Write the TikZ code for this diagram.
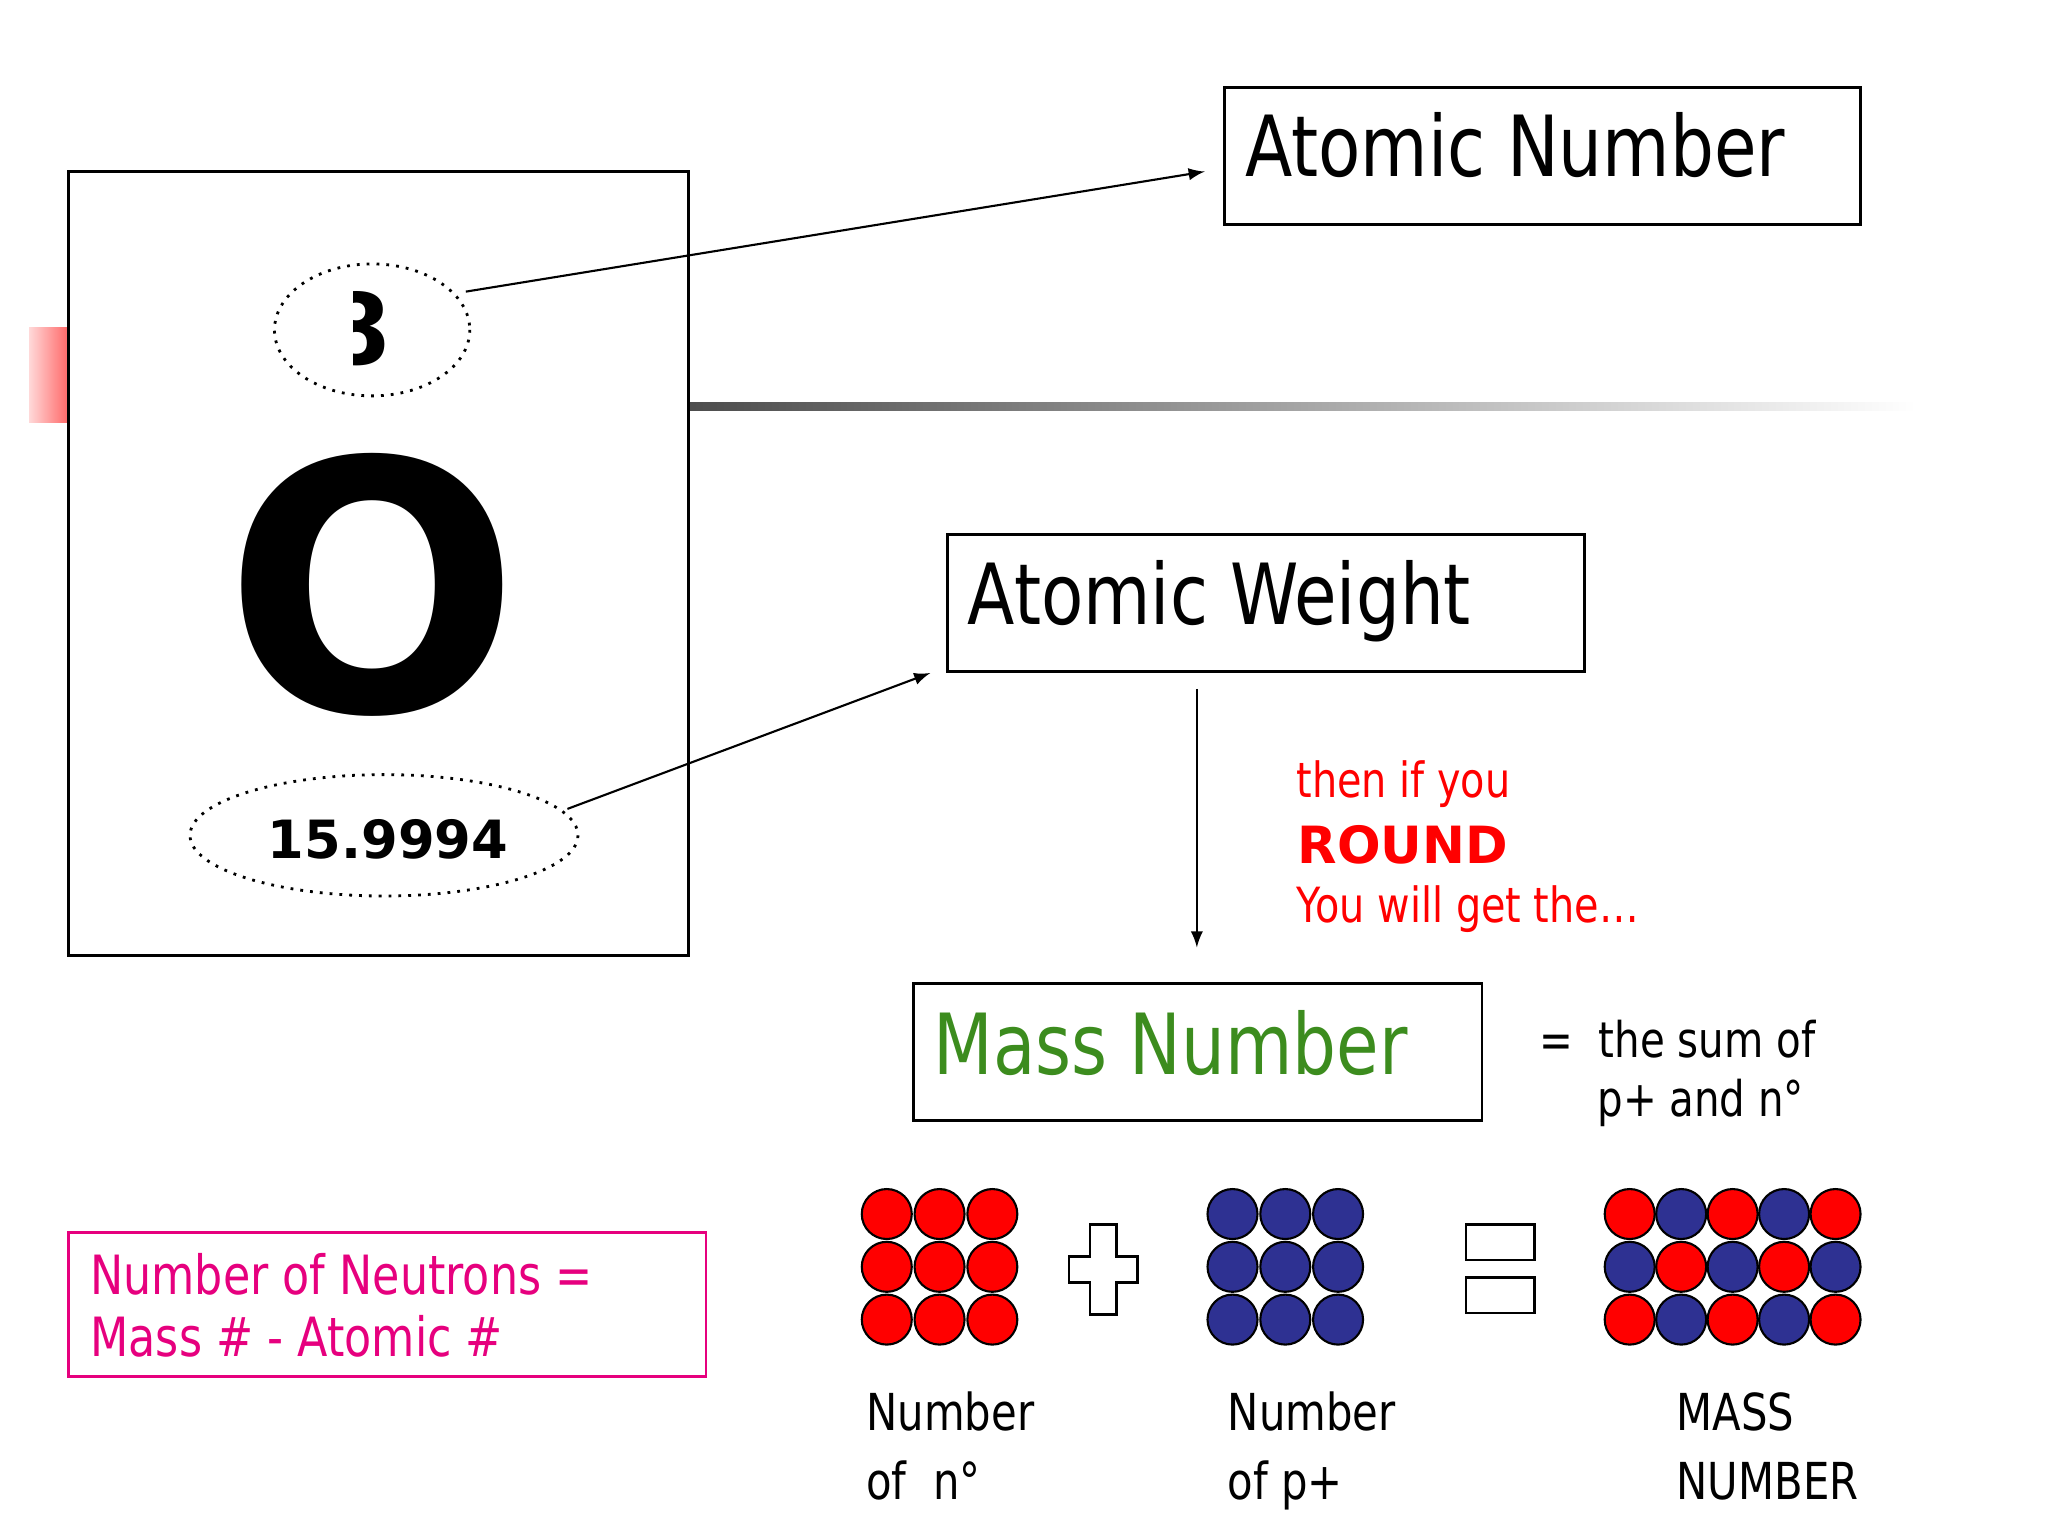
\documentclass[tikz,border=0pt]{standalone}
\usepackage{fontspec}
\setmainfont{DejaVu Sans}
\newfontfamily\cond[FakeStretch=0.82]{DejaVu Sans}
\definecolor{pinkc}{HTML}{E6007E}
\definecolor{greenc}{HTML}{3C8C1E}
\definecolor{bluec}{HTML}{2E3192}
\begin{document}
\begin{tikzpicture}[x=0.013196cm,y=-0.013196cm,
  bx/.style={draw,line width=0.8pt},
  dot/.style={circle,draw,line width=0.6pt,inner sep=0pt,minimum size=0.5cm},
  R/.style={dot,fill=red},B/.style={dot,fill=bluec},
  tx/.style={anchor=base west,inner sep=0pt},
  lbl/.style={tx,font=\cond\fontsize{14.5}{17}\selectfont}]
\useasboundingbox (0,0) rectangle (1552,1164);
\fill[left color=red!15,right color=red!60] (22,248) rectangle (52,320);
\shade[left color=black!70,right color=white] (522,305) rectangle (1452,311);
\draw[bx] (52,130) rectangle (522,724);
\begin{scope}
\clip (268,200) rectangle (340,300);
\node[font=\bfseries\fontsize{28}{30}\selectfont,anchor=east,inner sep=0pt] (eight) at (297,249) {8};
\end{scope}
\draw[dotted,line width=0.8pt] (282,250) ellipse (74 and 50);
\coordinate (e1r) at (353,221);
\node[font=\bfseries\fontsize{99}{99}\selectfont] (O) at (282,443) {O};
\draw[dotted,line width=0.8pt] (291,633) ellipse (147 and 46);
\node[font=\bfseries\fontsize{15}{17}\selectfont] (mass) at (294,636) {15.9994};
\coordinate (e2r) at (430,613);
\draw[bx] (928,66) rectangle (1410,170);
\node[tx,font=\cond\fontsize{24}{28}\selectfont] (an) at (943,134) {Atomic Number};
\coordinate (anl) at (913,130);
\draw[bx] (718,405) rectangle (1201,509);
\node[tx,font=\cond\fontsize{24}{28}\selectfont] (aw) at (733,473) {Atomic Weight};
\coordinate (awl) at (705,510);
\draw[-latex,line width=0.6pt] (e1r) -- (anl);
\draw[-latex,line width=0.6pt] (e2r) -- (awl);
\coordinate (v1) at (907,522); \coordinate (v2) at (907,718);
\draw[-latex,line width=0.6pt] (v1) -- (v2);
\node[tx,text=red,font=\cond\fontsize{13.8}{15}\selectfont] at (982,604) {then if you};
\node[tx,text=red,font=\bfseries\fontsize{14.6}{15}\selectfont] at (983,654) {ROUND};
\node[tx,text=red,font=\cond\fontsize{13.8}{15}\selectfont] at (982,699) {You will get the…};
\draw[bx] (692,745) rectangle (1123,849);
\node[tx,text=greenc,font=\cond\fontsize{24}{28}\selectfont] (mn) at (707,814) {Mass Number};
\node[tx,font=\cond\fontsize{14}{15}\selectfont] at (1166,801) {=\ \ the sum of};
\node[tx,font=\cond\fontsize{14}{15}\selectfont] at (1210,846) {p+ and n°};
\draw[pinkc,line width=0.8pt] (52,934) rectangle (535,1043);
\node[tx,text=pinkc,font=\cond\fontsize{15.4}{17}\selectfont] at (68,981) {Number of Neutrons =};
\node[tx,text=pinkc,font=\cond\fontsize{15.4}{17}\selectfont] at (68,1028) {Mass \# - Atomic \#};
\foreach \i in {0,1,2}{\foreach \j in {0,1,2}{
  \node[R] (r\i\j) at (672+40*\i,920+40*\j) {};
  \node[B] (b\i\j) at (934+40*\i,920+40*\j) {};}}
\foreach \i in {0,...,4}{\foreach \j in {0,1,2}{
  \pgfmathtruncatemacro\p{mod(\i+\j,2)}
  \ifnum\p=0 \node[R] (m\i\j) at (1235+39*\i,920+40*\j) {};
  \else \node[B] (m\i\j) at (1235+39*\i,920+40*\j) {};\fi}}
\draw[line width=0.7pt] (826,928) -- (846,928) -- (846,952) -- (862,952) -- (862,972) -- (846,972) -- (846,996) -- (826,996) -- (826,972) -- (810,972) -- (810,952) -- (826,952) -- cycle;
\draw[line width=0.7pt] (1111,928) rectangle (1163,955);
\draw[line width=0.7pt] (1111,968) rectangle (1163,995);
\node[lbl] at (656,1084) {Number};
\node[lbl] at (656,1136) {of\ \ n°};
\node[lbl] at (930,1084) {Number};
\node[lbl] at (930,1136) {of p+};
\node[lbl] at (1270,1084) {MASS};
\node[lbl] at (1270,1136) {NUMBER};
\end{tikzpicture}
\end{document}
